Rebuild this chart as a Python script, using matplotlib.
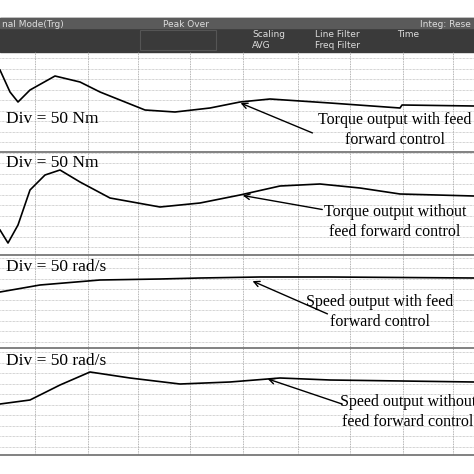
import matplotlib.pyplot as plt

# traces (pixel positions of the capture)
torque_ff_x = [0, 10, 18, 30, 55, 80, 100, 145, 175, 210, 240, 270, 330, 400, 402, 474]
torque_ff_y = [70, 92, 102, 90, 76, 82, 92, 110, 112, 108, 102, 99, 103, 108, 105, 106]
torque_nff_x = [0, 8, 18, 30, 45, 60, 80, 110, 160, 200, 240, 280, 320, 360, 400, 474]
torque_nff_y = [230, 243, 225, 190, 175, 170, 182, 198, 207, 203, 195, 186, 184, 188, 194, 196]
speed_ff_x = [0, 40, 100, 160, 200, 260, 330, 474]
speed_ff_y = [292, 285, 280, 279, 278, 277, 277, 278]
speed_nff_x = [0, 30, 60, 90, 130, 180, 230, 280, 330, 474]
speed_nff_y = [404, 400, 385, 372, 378, 384, 382, 378, 380, 382]

div_labels = ['Div = 50 Nm', 'Div = 50 Nm', 'Div = 50 rad/s', 'Div = 50 rad/s']
div_y = [119, 163, 267, 361]
notes = ['Torque output with feed\nforward control', 'Torque output without\nfeed forward control',
         'Speed output with feed\nforward control', 'Speed output without\nfeed forward control']
note_xy = [(395, 130), (395, 222), (380, 312), (408, 412)]
arrow_tip = [(238, 102), (240, 195), (250, 280), (265, 378)]
arrow_tail = [(315, 134), (325, 210), (330, 315), (345, 405)]

fig = plt.figure(figsize=(4.74, 4.74), dpi=100)
ax = fig.add_axes([0, 0, 1, 1])
ax.set_xlim(0, 474)
ax.set_ylim(474, 0)
ax.axis('off')

# header bar
ax.add_patch(plt.Rectangle((0, 18), 474, 34, color='#3a3a3a'))
ax.add_patch(plt.Rectangle((0, 18), 474, 10, color='#5a5a5a'))
for t, x, y in [('nal Mode(Trg)', 2, 24), ('Peak Over', 163, 24), ('Scaling', 252, 34), ('AVG', 252, 45),
                ('Line Filter', 315, 34), ('Freq Filter', 315, 45), ('Time', 397, 34), ('Integ: Rese', 420, 24)]:
    ax.text(x, y, t, color='#dddddd', fontsize=6.5, va='center')
ax.add_patch(plt.Rectangle((140, 30), 76, 20, fill=False, ec='#555555', lw=0.8))

# grid
for gx in [35, 88, 138, 190, 243, 298, 350, 403, 453]:
    ax.plot([gx, gx], [52, 455], color='#999999', lw=0.6, ls=(0, (1, 1)))
gy = 58
while gy < 455:
    ax.plot([0, 474], [gy, gy], color='#aaaaaa', lw=0.5, ls=(0, (1, 1)))
    gy += 10.5
for sy in [152, 255, 348, 455]:
    ax.plot([0, 474], [sy, sy], color='#777777', lw=1.3)

for xs, ys in [(torque_ff_x, torque_ff_y), (torque_nff_x, torque_nff_y),
               (speed_ff_x, speed_ff_y), (speed_nff_x, speed_nff_y)]:
    ax.plot(xs, ys, color='black', lw=1.2)

for lab, y in zip(div_labels, div_y):
    ax.text(6, y, lab, fontsize=12.5, family='Liberation Serif', va='center')
for n, (x, y) in zip(notes, note_xy):
    ax.text(x, y, n, fontsize=11.5, family='Liberation Serif', va='center', ha='center', linespacing=1.25)
for tip, tail in zip(arrow_tip, arrow_tail):
    ax.annotate('', xy=tip, xytext=tail, arrowprops=dict(arrowstyle='->', lw=1, color='black'))

fig.savefig('out.png', dpi=100)
